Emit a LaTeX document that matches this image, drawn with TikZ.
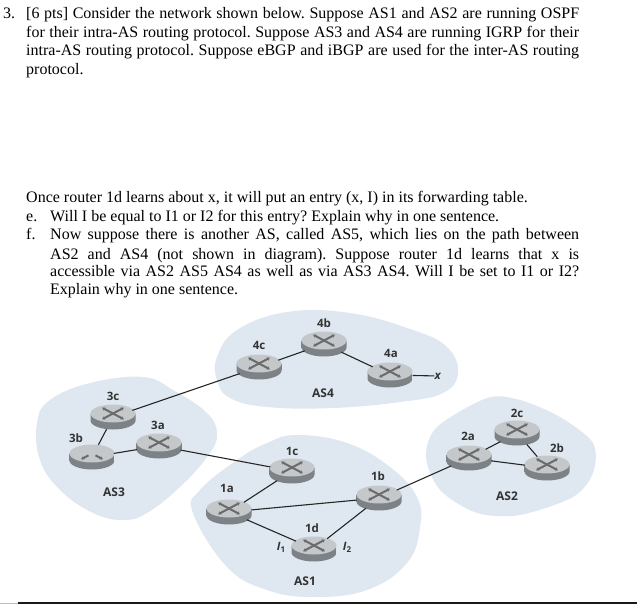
\documentclass[tikz,border=0pt]{standalone}
\usepackage{fontspec}
\setmainfont{Liberation Serif}
\newfontfamily\labelfont{Open Sans}
\usetikzlibrary{arrows.meta,shapes.geometric}

% one router: body, top face and the arrows (optional list of angle/start radius)
\newcommand{\router}[3][28/0,152/0,208/0,332/0]{
  \node[routerbody] (#2) at (#3) {};
  \shade[routerside] ([xshift=-22.5pt,yshift=3.5pt]#2.center) -- ++(0pt,-7pt)
    arc[start angle=180,end angle=360,x radius=22.5pt,y radius=9pt] -- ++(0pt,7pt) -- cycle;
  \fill[routertop] ([yshift=3.5pt]#2.center) ellipse (22.5pt and 9pt);
  \foreach \ang/\rad in {#1}
    \draw[routerarrow] ([yshift=3.5pt]#2.center) ++(\ang:\rad pt) -- ++(\ang:{12.5pt-\rad pt});
}

\begin{document}
\begin{tikzpicture}[
  x=1pt, y=-1pt,
  textline/.style={anchor=base west, inner sep=0pt, font=\fontsize{16}{18}\selectfont\frenchspacing},
  asblob/.style={fill=blobcol, draw=none},
  routerbody/.style={ellipse, minimum width=45pt, minimum height=25pt, inner sep=0pt, draw=none},
  routerside/.style={left color=routerdark, middle color=routerlight, right color=routerdark},
  routertop/.style={fill=routerface},
  routerarrow/.style={draw=black!58, line width=2pt, -{Latex[length=3pt,width=4pt]}},
  link/.style={draw=black!85, line width=1.1pt},
  rlabel/.style={font=\labelfont\bfseries\fontsize{11.5}{13}\selectfont, text=black!80, inner sep=0pt},
  aslabel/.style={font=\labelfont\bfseries\fontsize{12}{14}\selectfont, text=black!80, inner sep=0pt}
]
\definecolor{blobcol}{HTML}{DFE8F0}
\definecolor{routerdark}{HTML}{7C8286}
\definecolor{routerlight}{HTML}{C8CCCE}
\definecolor{routerface}{HTML}{C4C8CB}
\useasboundingbox (0,0) rectangle (637,604);

% question text
\node[textline] (num) at (3,19) {3.};
\node[textline] (q1) at (26,19) {\makebox[553pt][s]{[6 pts] Consider the network shown below. Suppose AS1 and AS2 are running OSPF}};
\node[textline] (q2) at (26,38) {\makebox[553pt][s]{for their intra-AS routing protocol. Suppose AS3 and AS4 are running IGRP for their}};
\node[textline] (q3) at (26,56) {\makebox[553pt][s]{intra-AS routing protocol. Suppose eBGP and iBGP are used for the inter-AS routing}};
\node[textline] (q4) at (26,75) {protocol.};
\node[textline] (p1) at (26,203) {Once router 1d learns about x, it will put an entry (x, I) in its forwarding table.};
\node[textline] (e0) at (26,222) {e.};
\node[textline] (e1) at (50,222) {Will I be equal to I1 or I2 for this entry? Explain why in one sentence.};
\node[textline] (f0) at (26,240) {f.};
\node[textline] (f1) at (50,240) {\makebox[529pt][s]{Now suppose there is another AS, called AS5, which lies on the path between}};
\node[textline] (f2) at (50,259) {\makebox[529pt][s]{AS2 and AS4 (not shown in diagram). Suppose router 1d learns that x is}};
\node[textline] (f3) at (50,276) {\makebox[529pt][s]{accessible via AS2 AS5 AS4 as well as via AS3 AS4. Will I be set to I1 or I2?}};
\node[textline] (f4) at (50,294) {Explain why in one sentence.};

% autonomous systems
\fill[asblob] plot[smooth cycle, tension=0.7] coordinates {(37,423) (50,400) (90,383) (143,377) (173,390) (207,413) (217,435) (207,457) (180,487) (147,513) (123,520) (93,513) (60,490) (40,460)};
\fill[asblob] plot[smooth cycle, tension=0.7] coordinates {(297,435) (347,443) (390,467) (417,497) (420,527) (407,563) (367,590) (313,597) (267,590) (227,567) (193,513) (200,490) (237,460) (267,443)};
\fill[asblob] plot[smooth cycle, tension=0.7] coordinates {(217,357) (237,330) (287,312) (350,313) (413,330) (447,347) (458,373) (443,393) (400,402) (333,408) (267,407) (230,398) (217,380)};
\fill[asblob] plot[smooth cycle, tension=0.5] coordinates {(426,457) (437,427) (487,398) (520,400) (560,417) (593,443) (593,473) (573,497) (520,515) (477,513) (440,490)};

% routers
\router{r3c}{113,417}
\router{r3a}{159,446}
\router[208/4,332/4]{r3b}{92,457}
\router{r1c}{292,471}
\router{r1a}{229,512}
\router{r1d}{314,549}
\router{r1b}{379,498}
\router{r4c}{259,367}
\router{r4b}{324,344}
\router{r4a}{390,375}
\router{r2a}{469,458}
\router{r2c}{517,433}
\router{r2b}{547,468}

% links
\node[rlabel] (x) at (438,376) {\textit{x}};
\draw[link] (r3c) -- (r3b);
\draw[link] (r3b) -- (r3a);
\draw[link] (r3c) -- (r4c);
\draw[link] (r3a) -- (r1c);
\draw[link] (r4c) -- (r4b);
\draw[link] (r4b) -- (r4a);
\draw[link] (r4a) -- (x);
\draw[link] (r1c) -- (r1a);
\draw[link] (r1a) -- (r1b);
\draw[link] (r1a) -- (r1d);
\draw[link] (r1d) -- (r1b);
\draw[link] (r1b) -- (r2a);
\draw[link] (r2a) -- (r2c);
\draw[link] (r2c) -- (r2b);
\draw[link] (r2a) -- (r2b);

% labels
\node[rlabel] (l3c) at (113,396) {3c};
\node[rlabel] (l3a) at (158,425) {3a};
\node[rlabel] (l3b) at (76,438) {3b};
\node[rlabel] (l1c) at (292,451) {1c};
\node[rlabel] (l1a) at (227,488) {1a};
\node[rlabel] (l1d) at (312,528) {1d};
\node[rlabel] (l1b) at (378,476) {1b};
\node[rlabel] (l4c) at (259,345) {4c};
\node[rlabel] (l4b) at (324,323) {4b};
\node[rlabel] (l4a) at (391,353) {4a};
\node[rlabel] (l2a) at (468,436) {2a};
\node[rlabel] (l2c) at (517,413) {2c};
\node[rlabel] (l2b) at (557,448) {2b};
\node[rlabel] (i1) at (281,547) {\textit{I}\raisebox{-2pt}{\fontsize{8}{9}\selectfont 1}};
\node[rlabel] (i2) at (347,547) {\textit{I}\raisebox{-2pt}{\fontsize{8}{9}\selectfont 2}};
\node[aslabel] (as3) at (114,492) {AS3};
\node[aslabel] (as1) at (305,581) {AS1};
\node[aslabel] (as4) at (323,393) {AS4};
\node[aslabel] (as2) at (507,496) {AS2};

% rule at the foot
\coordinate (footl) at (18,603);
\coordinate (footr) at (637,603);
\coordinate (foot0) at (0,603);
\draw[line width=1pt, black!25] (foot0) -- (footl);
\draw[line width=2pt, black!90] (footl) -- (footr);
\end{tikzpicture}
\end{document}
